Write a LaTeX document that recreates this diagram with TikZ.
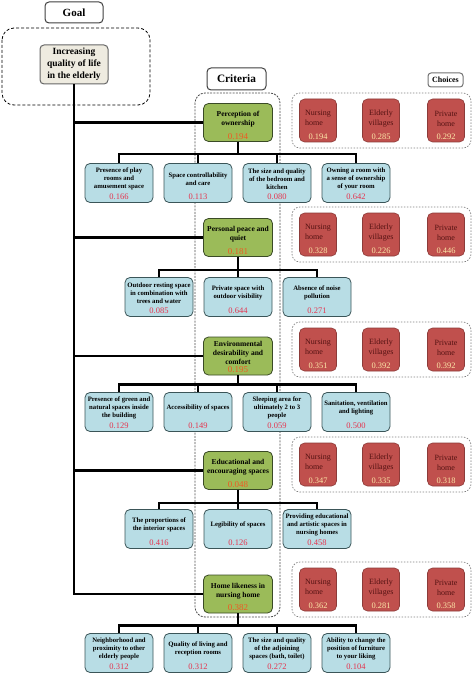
\documentclass[tikz,border=0pt]{standalone}
\usepackage{fontspec}
\setmainfont{Liberation Serif}
\usetikzlibrary{calc}

\definecolor{subfill}{HTML}{B8DDE5}
\definecolor{subline}{HTML}{3B5558}
\definecolor{subnum}{HTML}{E5344E}
\definecolor{critfill}{HTML}{9BBB59}
\definecolor{critline}{HTML}{3A4A26}
\definecolor{critnum}{HTML}{EE5A24}
\definecolor{choicefill}{HTML}{C0504D}
\definecolor{choiceline}{HTML}{8C3B39}
\definecolor{choiceword}{HTML}{541212}
\definecolor{choicenum}{HTML}{FDE9A9}
\definecolor{goalfill}{HTML}{EEEBE0}

\tikzset{
  link/.style={line width=2.3pt, black},
  heading/.style={draw=black!75, line width=1pt, rounded corners=4pt, fill=white, inner sep=1pt},
  goalbox/.style={draw=black!60, line width=1pt, rounded corners=4pt, fill=goalfill, align=center,
    minimum width=68pt, minimum height=39pt, inner sep=1pt, font=\fontsize{9.5}{12}\selectfont\bfseries},
  goalzone/.style={draw=black, line width=0.8pt, dash pattern=on 3pt off 2pt, rounded corners=12pt},
  critzone/.style={draw=black!70, line width=0.8pt, dash pattern=on 2pt off 1.2pt, rounded corners=10pt},
  choicezone/.style={draw=black!50, line width=0.7pt, dash pattern=on 1.5pt off 1.5pt, rounded corners=8pt},
  subbox/.style={draw=subline, line width=0.8pt, rounded corners=5pt, fill=subfill,
    minimum width=68pt, minimum height=39pt},
  subbox text/.style={align=center, inner sep=0pt, yshift=4pt, font=\fontsize{6.7}{8}\selectfont\bfseries},
  subbox value/.style={anchor=base, inner sep=0pt, yshift=3.5pt, text=subnum, font=\fontsize{8.5}{10}\selectfont},
  critbox/.style={draw=critline, line width=0.8pt, rounded corners=5pt, fill=critfill,
    minimum width=69pt, minimum height=38pt},
  critbox text/.style={align=center, inner sep=0pt, yshift=3pt, font=\fontsize{7.5}{9}\selectfont\bfseries},
  critbox value/.style={anchor=base, inner sep=0pt, yshift=2.5pt, text=critnum, font=\fontsize{9}{10}\selectfont},
  choicebox/.style={draw=choiceline, line width=0.6pt, rounded corners=5pt, fill=choicefill,
    minimum width=37pt, minimum height=43pt},
  choicebox text/.style={align=center, inner sep=0pt, yshift=2pt, text=choiceword, font=\fontsize{8}{10}\selectfont},
  choicebox value/.style={anchor=base, inner sep=0pt, yshift=2.5pt, text=choicenum, font=\fontsize{8.4}{10}\selectfont},
}

% box with its words and its weight at the bottom
\def\valuebox[#1](#2)(#3)#4#5{%
  \node[#1] (#2) at (#3) {};
  \node[#1 text] (#2t) at (#2.center) {#4};
  \node[#1 value] (#2v) at (#2.south) {#5};}

% one row of choices
\def\choicerow(#1)(#2)#3#4#5{%
  \draw[choicezone] (292,#2) rectangle (471,#2-55);
  \valuebox[choicebox](#1a)(318,#2-27.5){Nursing\\\rlap{home}\phantom{Nursing}}{#3}
  \valuebox[choicebox](#1b)(381,#2-27.5){Elderly\\villages}{#4}
  \valuebox[choicebox](#1c)(446,#2-27.5){Private\\home}{#5}}

\begin{document}
\begin{tikzpicture}[x=1pt,y=1pt]
		%%%%% START %%%%%
		\useasboundingbox (0,0) rectangle (474,-676);
		
		\draw[goalzone] (2,-28) rectangle (150,-105);
		\draw[critzone] (195,-93) rectangle (280,-617);
		
		\node[heading, minimum width=58pt, minimum height=21pt, font=\fontsize{11}{12}\selectfont\bfseries] (goalhead) at (74,-12.5) {Goal};
		\node[heading, minimum width=59pt, minimum height=22pt, font=\fontsize{11.3}{12}\selectfont\bfseries] (crithead) at (236.5,-79) {Criteria};
		\node[heading, draw=black!55, rounded corners=3pt, minimum width=35pt, minimum height=14pt, font=\fontsize{8}{9}\selectfont\bfseries] (choicehead) at (445.5,-80) {Choices};
		
		\node[goalbox] (goal) at (74,-64.5) {Increasing\\quality of life\\in the elderly};
		
		%%%%% criteria
		\valuebox[critbox](c1)(238,-122.5){Perception of\\ownership}{0.194}
		\valuebox[critbox](c2)(238,-237.5){Personal peace and\\quiet}{0.181}
		\valuebox[critbox](c3)(238,-356){Environmental\\desirability and\\comfort}{0.195}
		\valuebox[critbox](c4)(238,-470.5){Educational and\\encouraging spaces}{0.048}
		\valuebox[critbox](c5)(238,-594){Home likeness in\\nursing home}{0.382}
		
		%%%%% sub-criteria
		\valuebox[subbox](s11)(119,-183){Presence of play\\rooms and\\amusement space}{0.166}
		\valuebox[subbox](s12)(198,-183){Space controllability\\and care}{0.113}
		\valuebox[subbox](s13)(277,-183){The size and quality\\of the bedroom and\\kitchen}{0.080}
		\valuebox[subbox](s14)(356,-183){Owning a room with\\a sense of ownership\\of your room}{0.642}
		
		\valuebox[subbox](s21)(159,-297){Outdoor resting space\\in combination with\\trees and water}{0.085}
		\valuebox[subbox](s22)(238,-297){Private space with\\outdoor visibility}{0.644}
		\valuebox[subbox](s23)(317,-297){Absence of noise\\pollution}{0.271}
		
		\valuebox[subbox](s31)(119,-412){Presence of green and\\natural spaces inside\\the building}{0.129}
		\valuebox[subbox](s32)(198,-412){Accessibility of spaces}{0.149}
		\valuebox[subbox](s33)(277,-412){Sleeping area for\\ultimately 2 to 3\\people}{0.059}
		\valuebox[subbox](s34)(356,-412){Sanitation, ventilation\\and lighting}{0.500}
		
		\valuebox[subbox](s41)(159,-529){The proportions of\\the interior spaces}{0.416}
		\valuebox[subbox](s42)(238,-529){Legibility of spaces}{0.126}
		\valuebox[subbox](s43)(317,-529){Providing educational\\and artistic spaces in\\nursing homes}{0.458}
		
		\valuebox[subbox](s51)(119,-653){Neighborhood and\\proximity to other\\elderly people}{0.312}
		\valuebox[subbox](s52)(198,-653){Quality of living and\\reception rooms}{0.312}
		\valuebox[subbox](s53)(277,-653){The size and quality\\of the adjoining\\spaces (bath, toilet)}{0.272}
		\valuebox[subbox](s54)(356,-653){Ability to change the\\position of furniture\\to your liking}{0.104}
		
		%%%%% choices
		\choicerow(r1)(-93){0.194}{0.285}{0.292}
		\choicerow(r2)(-207){0.328}{0.226}{0.446}
		\choicerow(r3)(-322){0.351}{0.392}{0.392}
		\choicerow(r4)(-437){0.347}{0.335}{0.318}
		\choicerow(r5)(-562){0.362}{0.281}{0.358}
		
		%%%%% links
		\foreach \c in {c1,c2,c3,c4,c5} \draw[link] (goal.south) |- (\c.west);
		\foreach \s in {s11,s12,s13,s14} \draw[link] (c1.south) -- ++(0,-12) -| (\s.north);
		\foreach \s in {s21,s22,s23} \draw[link] (c2.south) -- ++(0,-13) -| (\s.north);
		\foreach \s in {s31,s32,s33,s34} \draw[link] (c3.south) -- ++(0,-9) -| (\s.north);
		\foreach \s in {s41,s42,s43} \draw[link] (c4.south) -- ++(0,-13) -| (\s.north);
		\foreach \s in {s51,s52,s53,s54} \draw[link] (c5.south) -- ++(0,-12) -| (\s.north);
		
		%%%%% END %%%%%
\end{tikzpicture}
\end{document}
